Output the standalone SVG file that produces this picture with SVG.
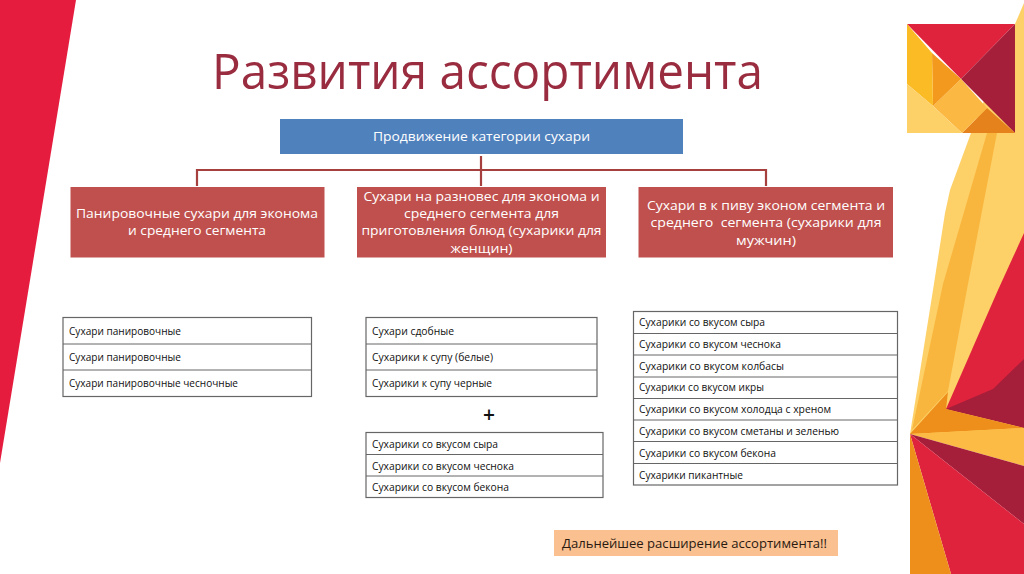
<svg xmlns="http://www.w3.org/2000/svg" width="1024" height="574" viewBox="0 0 1024 574">
<style>
text{font-family:"Open Sans","Liberation Sans",sans-serif}
.title{font-size:50px;fill:#9a2c40}
.w{fill:#fff;font-size:13.5px;text-anchor:middle}
.c{fill:#111;font-size:10.5px}
.tb{fill:#fff;stroke:#666;stroke-width:1.2}
.ln{stroke:#666;stroke-width:1}
.red{fill:#c0504d}
.conn{fill:none;stroke:#a5403f;stroke-width:2.2}
</style>
<rect width="1024" height="574" fill="#fff"/>
<g id="decor">
<polygon points="0,0 76,0 0,463" fill="#e61c3f"/>
<polygon points="1024,3 1015,24 971,133 950,190 945,213 933,290 910,434 1024,434" fill="#fdd168"/>
<polygon points="987,133 997,133 968,284 948,391 912,430 943,284" fill="#f9b63e"/>
<polygon points="1024,233 998,290 946,409 1024,427" fill="#e0233c"/>
<polygon points="946,409 993,389 1024,359 1024,428" fill="#a51e3a"/>
<polygon points="910,434 948,392 946,409 1024,428" fill="#ee8f1c"/>
<polygon points="910,434 1024,428 1024,466" fill="#fcbb44"/>
<polygon points="910,434 1024,466 1024,524" fill="#a51e3a"/>
<polygon points="910,434 1024,524 1024,574 951,574" fill="#e0233c"/>
<polygon points="910,434 951,574 910,574" fill="#ee8f1c"/>
<polygon points="907,24 1015,24 961,79" fill="#e0233c"/>
<polygon points="1015,24 1015,133 961,79" fill="#a51e3a"/>
<polygon points="987,108 1015,133 962,133" fill="#e5821c"/>
<polygon points="961,79 987,108 962,133 933,106" fill="#fbb843"/>
<polygon points="932,53 961,79 933,106" fill="#f39a1e"/>
<polygon points="907,24 932,53 933,106 907,84" fill="#fbbb25"/>
<polygon points="907,84 933,106 962,133 907,133" fill="#fdd168"/>
</g>
<text id="title" class="title" x="212" y="89" textLength="551" lengthAdjust="spacingAndGlyphs">Развития ассортимента</text>
<g id="connectors">
<path class="conn" d="M197 186V170H766V186"/>
<path class="conn" d="M481 156V186"/>
</g>
<g id="top">
<rect x="280" y="119" width="403" height="35" fill="#4f81bd"/>
<text class="w" x="481.500" y="141" textLength="217" lengthAdjust="spacingAndGlyphs">Продвижение категории сухари</text>
</g>
<g id="seg1">
<rect class="red" x="70.500" y="187" width="254" height="70.500"/>
<text class="w" x="197" y="218" textLength="242" lengthAdjust="spacingAndGlyphs">Панировочные сухари для эконома</text>
<text class="w" x="197" y="235" textLength="138" lengthAdjust="spacingAndGlyphs">и среднего сегмента</text>
</g>
<g id="seg2">
<rect class="red" x="357" y="187" width="249" height="70.500"/>
<text class="w" x="481.500" y="201" textLength="236" lengthAdjust="spacingAndGlyphs">Сухари на разновес для эконома и</text>
<text class="w" x="481.500" y="218" textLength="155" lengthAdjust="spacingAndGlyphs">среднего сегмента для</text>
<text class="w" x="481.500" y="235" textLength="240" lengthAdjust="spacingAndGlyphs">приготовления блюд (сухарики для</text>
<text class="w" x="481.500" y="253" textLength="62" lengthAdjust="spacingAndGlyphs">женщин)</text>
</g>
<g id="seg3">
<rect class="red" x="638.500" y="187" width="254.500" height="70.500"/>
<text class="w" x="766" y="210" textLength="238" lengthAdjust="spacingAndGlyphs">Сухари в к пиву эконом сегмента и</text>
<text class="w" x="766" y="227" textLength="231" lengthAdjust="spacingAndGlyphs" xml:space="preserve">среднего  сегмента (сухарики для</text>
<text class="w" x="766" y="245" textLength="60" lengthAdjust="spacingAndGlyphs">мужчин)</text>
</g>
<g id="table1">
<rect class="tb" x="63" y="317.500" width="248.500" height="79"/>
<path class="ln" d="M63 344H311M63 370H311"/>
<text class="c" x="69" y="335" textLength="112" lengthAdjust="spacingAndGlyphs">Сухари панировочные</text>
<text class="c" x="69" y="361" textLength="112" lengthAdjust="spacingAndGlyphs">Сухари панировочные</text>
<text class="c" x="69" y="387" textLength="169" lengthAdjust="spacingAndGlyphs">Сухари панировочные чесночные</text>
</g>
<g id="table2">
<rect class="tb" x="366" y="317.500" width="231" height="79"/>
<path class="ln" d="M366 344H597M366 370H597"/>
<text class="c" x="372" y="335" textLength="82" lengthAdjust="spacingAndGlyphs">Сухари сдобные</text>
<text class="c" x="372" y="361" textLength="121" lengthAdjust="spacingAndGlyphs">Сухарики к супу (белые)</text>
<text class="c" x="372" y="387" textLength="120" lengthAdjust="spacingAndGlyphs">Сухарики к супу черные</text>
</g>
<text id="plus" x="489" y="422" font-size="21" font-weight="600" fill="#111" text-anchor="middle">+</text>
<g id="table3">
<rect class="tb" x="366" y="432.500" width="237" height="65"/>
<path class="ln" d="M366 454.500H603M366 476H603"/>
<text class="c" x="372" y="448" textLength="126" lengthAdjust="spacingAndGlyphs">Сухарики со вкусом сыра</text>
<text class="c" x="372" y="469.500" textLength="142" lengthAdjust="spacingAndGlyphs">Сухарики со вкусом чеснока</text>
<text class="c" x="372" y="491" textLength="137" lengthAdjust="spacingAndGlyphs">Сухарики со вкусом бекона</text>
</g>
<g id="table4">
<rect class="tb" x="633.500" y="311.500" width="264" height="173.500"/>
<path class="ln" d="M633 333.500H898M633 355H898M633 377H898M633 398.500H898M633 420H898M633 441.500H898M633 463.500H898"/>
<text class="c" x="639" y="326" textLength="126" lengthAdjust="spacingAndGlyphs">Сухарики со вкусом сыра</text>
<text class="c" x="639" y="348" textLength="142" lengthAdjust="spacingAndGlyphs">Сухарики со вкусом чеснока</text>
<text class="c" x="639" y="370" textLength="145" lengthAdjust="spacingAndGlyphs">Сухарики со вкусом колбасы</text>
<text class="c" x="639" y="391" textLength="125" lengthAdjust="spacingAndGlyphs">Сухарики со вкусом икры</text>
<text class="c" x="639" y="413" textLength="192" lengthAdjust="spacingAndGlyphs">Сухарики со вкусом холодца с хреном</text>
<text class="c" x="639" y="435" textLength="200" lengthAdjust="spacingAndGlyphs">Сухарики со вкусом сметаны и зеленью</text>
<text class="c" x="639" y="456.500" textLength="137" lengthAdjust="spacingAndGlyphs">Сухарики со вкусом бекона</text>
<text class="c" x="639" y="478.500" textLength="104" lengthAdjust="spacingAndGlyphs">Сухарики пикантные</text>
</g>
<g id="note">
<rect x="554" y="530" width="284" height="26" fill="#fac090"/>
<text x="562" y="548" font-size="13.500" fill="#2a1a10" textLength="265" lengthAdjust="spacingAndGlyphs">Дальнейшее расширение ассортимента!!</text>
</g>
</svg>
